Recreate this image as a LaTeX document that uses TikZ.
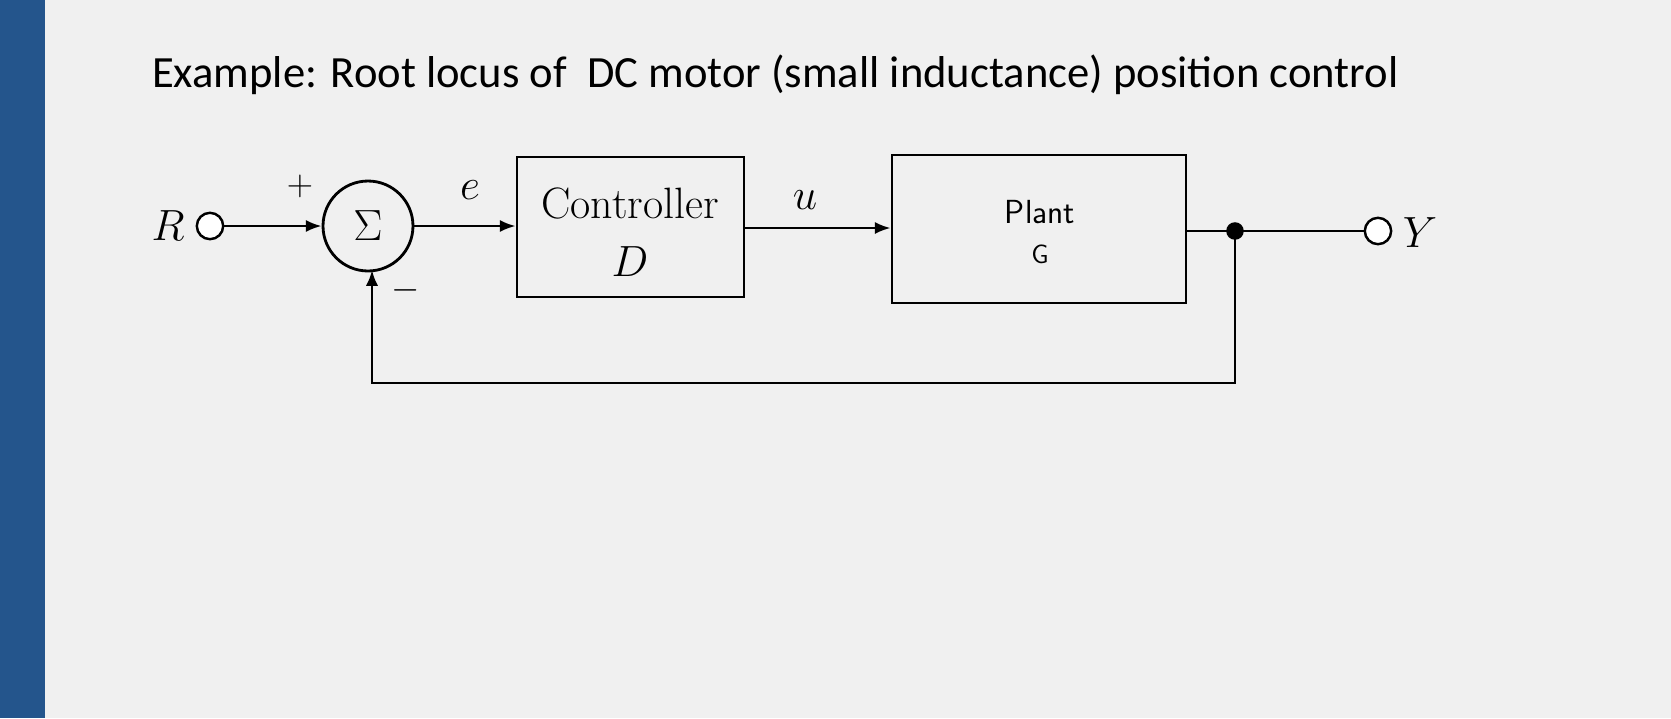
\documentclass[tikz,border=0pt]{standalone}
\usepackage{fontspec}
\setmainfont{Latin Modern Roman}
\newfontfamily\titlefont{Carlito}
\usetikzlibrary{arrows.meta}
\definecolor{barblue}{HTML}{24558C}
\begin{document}
\begin{tikzpicture}[x=0.02cm,y=-0.02cm,
  blk/.style={draw,line width=1.6pt,inner sep=0pt},
  wire/.style={line width=1.5pt},
  arr/.style={wire,-{Latex[length=9pt,width=7pt]}},
  port/.style={circle,draw,line width=1.4pt,fill=white,minimum size=15pt,inner sep=0pt}]
\useasboundingbox (0,0) rectangle (1671,718);
\fill[gray!12] (0,0) rectangle (1671,718);
\fill[barblue] (0,0) rectangle (45,718);
\node[font=\titlefont\fontsize{25.4}{30}\selectfont,anchor=west] (title) at (146,75) {Example: Root locus of\ \ DC motor (small inductance) position control};
\node[font=\itshape\fontsize{24}{28}\selectfont] (R) at (168,226) {$R$};
\node[port] (pin) at (210,226) {};
\node[circle,draw,line width=1.6pt,inner sep=0pt,minimum size=1.8cm] (sum) at (368,226) {\fontsize{24}{28}\selectfont$\Sigma$};
\node[font=\fontsize{22}{26}\selectfont] (plus) at (300,186) {$+$};
\node[font=\fontsize{22}{26}\selectfont] (minus) at (406,290) {$-$};
\node[blk,minimum width=4.54cm,minimum height=2.8cm] (ctrl) at (630.5,227) {};
\node[font=\fontsize{25}{29}\selectfont] (ctxt) at (630,203) {Controller};
\node[font=\fontsize{25}{29}\selectfont] (dtxt) at (630,262) {$D$};
\node[blk,minimum width=5.88cm,minimum height=2.96cm] (plant) at (1039,229) {};
\node[font=\sffamily\fontsize{19}{22}\selectfont] (ptxt) at (1040,212) {Plant};
\node[font=\sffamily\fontsize{15}{18}\selectfont] (gtxt) at (1040,254) {G};
\node[font=\fontsize{24}{28}\selectfont] (e) at (470,190) {$e$};
\node[font=\fontsize{24}{28}\selectfont] (u) at (805,200) {$u$};
\coordinate (j) at (1235,231);
\node[port] (pout) at (1378,231) {};
\node[font=\fontsize{24}{28}\selectfont] (Y) at (1420,233) {$Y$};
\draw[arr] (pin.east) -- (sum.west);
\draw[arr] (sum.east) -- (ctrl.west |- sum.east);
\draw[arr] (ctrl.east |- 0,228) -- (plant.west |- 0,228);
\draw[wire] (plant.east |- j) -- (j) -- (pout.west);
\fill (j) circle (5pt);
\draw[arr] (j) -- (1235,383) -- (372,383) -- (372,270);
\end{tikzpicture}
\end{document}
